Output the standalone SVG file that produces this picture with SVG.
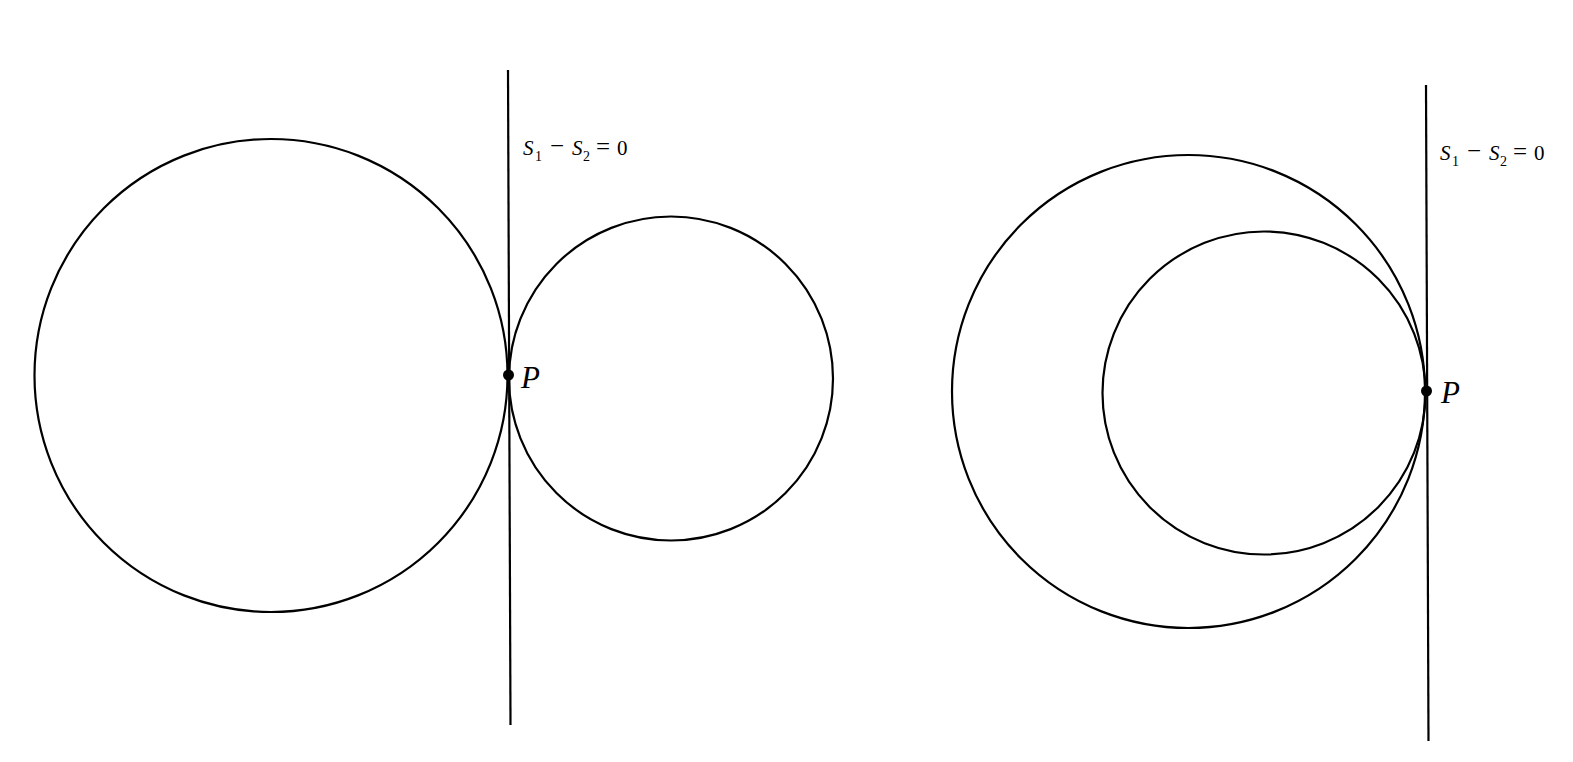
<svg xmlns="http://www.w3.org/2000/svg" width="1573" height="762" viewBox="0 0 1573 762">
<style>
.c{fill:none;stroke:#000;stroke-width:2.2}
.l{stroke:#000;stroke-width:2.2}
.t{font-family:"Liberation Serif",serif;fill:#000;font-size:21px}
.i{font-style:italic}
.s{font-size:14px}
.o{font-size:25px}
</style>
<rect width="1573" height="762" fill="#fff"/>
<g id="left-big"><circle class="c" cx="271" cy="375.5" r="236.5"/></g>
<g id="left-small"><circle class="c" cx="671" cy="378.5" r="162"/></g>
<g id="right-big"><circle class="c" cx="1188.5" cy="391.5" r="236.5"/></g>
<g id="right-small"><circle class="c" cx="1264" cy="393" r="161.5"/></g>
<g id="connectors">
<line class="l" x1="508" y1="70" x2="510.5" y2="725"/>
<line class="l" x1="1426" y1="85" x2="1428.5" y2="741"/>
</g>
<g id="left-P">
<circle cx="508.5" cy="375" r="5.5" fill="#000"/>
<text class="t i" x="521" y="388" style="font-size:31px">P</text>
</g>
<g id="right-P">
<circle cx="1426.5" cy="391" r="5.5" fill="#000"/>
<text class="t i" x="1441" y="403" style="font-size:31px">P</text>
</g>
<g id="left-label">
<text class="t"><tspan class="i" x="523" y="155">S</tspan><tspan class="s" x="535" y="161">1</tspan><tspan class="o" x="550" y="154">−</tspan><tspan class="i" x="572" y="155">S</tspan><tspan class="s" x="583" y="161">2</tspan><tspan class="o" x="596" y="155">=</tspan><tspan x="617" y="155">0</tspan></text>
</g>
<g id="right-label">
<text class="t"><tspan class="i" x="1440" y="160">S</tspan><tspan class="s" x="1452" y="166">1</tspan><tspan class="o" x="1467" y="159">−</tspan><tspan class="i" x="1489" y="160">S</tspan><tspan class="s" x="1500" y="166">2</tspan><tspan class="o" x="1513" y="160">=</tspan><tspan x="1534" y="160">0</tspan></text>
</g>
</svg>
